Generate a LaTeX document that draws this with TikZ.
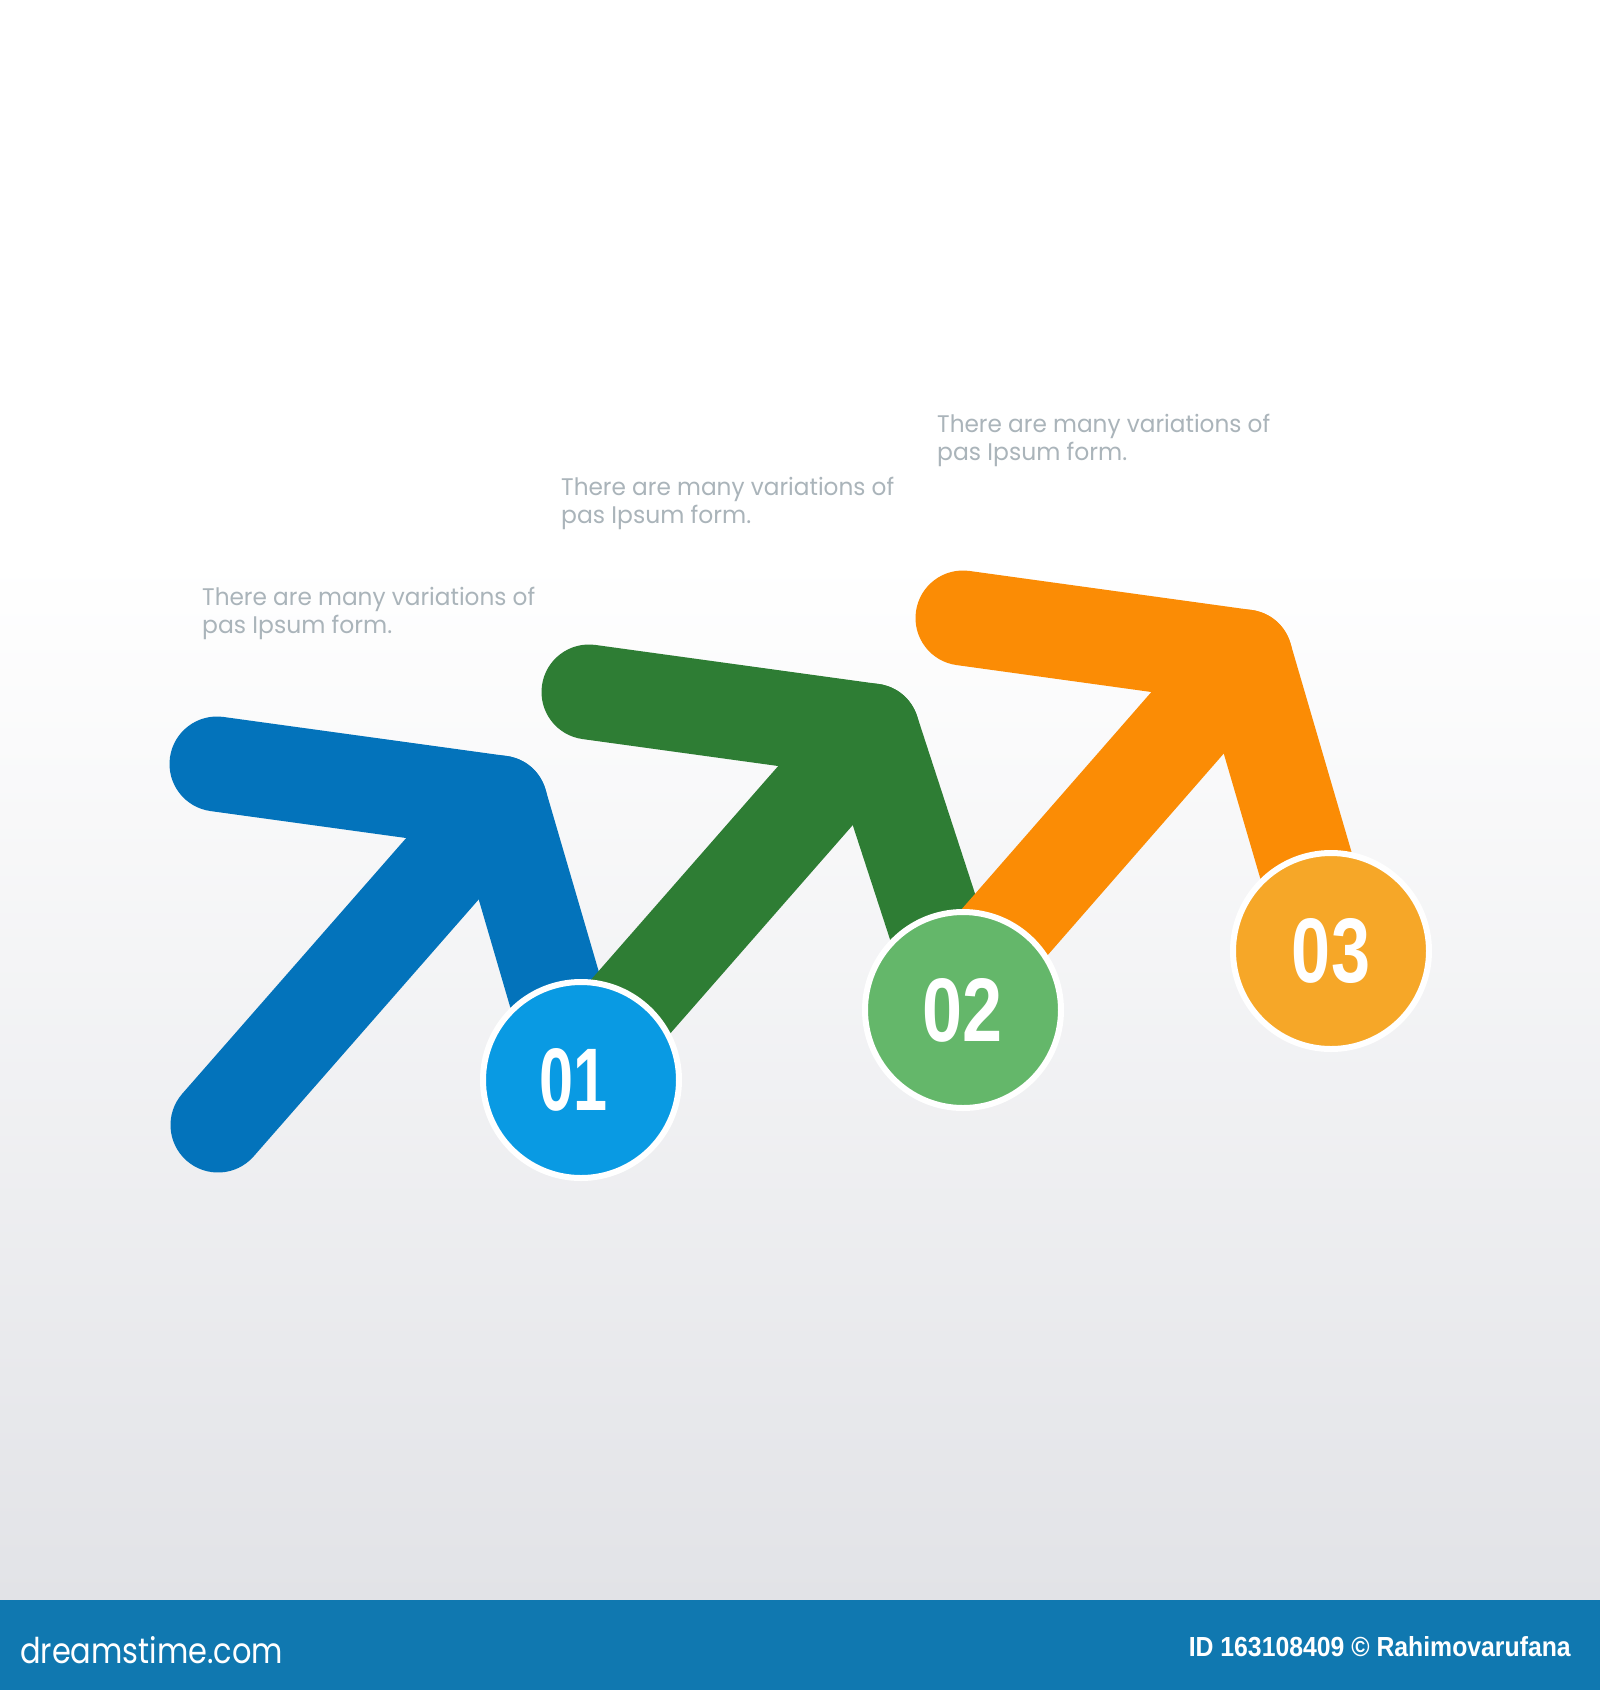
\documentclass[tikz,border=0pt]{standalone}
\usepackage{fontspec}
\usepackage{graphicx}
\setmainfont{Liberation Sans}
\newfontfamily\popfont{Poppins}
\definecolor{blueA}{RGB}{3,115,187}
\definecolor{greenA}{RGB}{46,125,52}
\definecolor{orangeA}{RGB}{251,140,5}
\definecolor{circA}{RGB}{9,154,227}
\definecolor{circB}{RGB}{100,183,106}
\definecolor{circC}{RGB}{246,167,40}
\definecolor{notegray}{RGB}{170,180,186}
\definecolor{bgbottom}{RGB}{226,227,231}
\definecolor{barblue}{RGB}{16,120,176}
\begin{document}
\begin{tikzpicture}[x=1pt,y=-1pt,
  arrowline/.style={line width=95pt, line cap=round, line join=round},
  numcircle/.style={circle, draw=white, line width=6pt, minimum size=196pt, inner sep=0pt, text=white, font=\bfseries},
  note/.style={anchor=base west, inner sep=0pt, text=notegray, font=\popfont\fontsize{24}{28}\selectfont}]
\useasboundingbox (0,0) rectangle (1600,1690);
% background
\fill[white] (0,0) rectangle (1600,560);
\shade[top color=white, bottom color=bgbottom] (0,560) rectangle (1600,1600);
\fill[barblue] (0,1600) rectangle (1600,1690);
% key points
\coordinate (p1) at (581,1080);
\coordinate (p2) at (963,1010);
\coordinate (p3) at (1331,951);
\coordinate (a1) at (217,764);
\coordinate (k1) at (500,803);
\coordinate (b1) at (218,1125);
\coordinate (a2) at (589,692);
\coordinate (k2) at (872,731);
\coordinate (b2) at (590,1053);
\coordinate (a3) at (963,618);
\coordinate (k3) at (1245,657);
\coordinate (b3) at (962,981);
% arrows
\draw[arrowline, blueA] (a1) -- (k1) -- (p1);
\draw[arrowline, blueA] (b1) -- (k1);
\draw[arrowline, greenA] (a2) -- (k2) -- (p2);
\draw[arrowline, greenA] (b2) -- (k2);
\draw[arrowline, orangeA] (a3) -- (k3) -- (p3);
\draw[arrowline, orangeA] (b3) -- (k3);
% number circles
\node[numcircle, fill=circA] (n1) at (p1) {\hspace*{-14pt}\resizebox{68pt}{62pt}{01}};
\node[numcircle, fill=circB] (n2) at (p2) {\resizebox{80pt}{63pt}{02}};
\node[numcircle, fill=circC] (n3) at (p3) {\resizebox{78pt}{64pt}{03}};
% notes
\node[note] (t1a) at (202,605) {\resizebox{333pt}{\height}{There are many variations of}};
\node[note] (t1b) at (202,633) {\resizebox{190pt}{\height}{pas Ipsum form.}};
\node[note] (t2a) at (561,495) {\resizebox{333pt}{\height}{There are many variations of}};
\node[note] (t2b) at (561,523) {\resizebox{190pt}{\height}{pas Ipsum form.}};
\node[note] (t3a) at (937,432) {\resizebox{333pt}{\height}{There are many variations of}};
\node[note] (t3b) at (937,460) {\resizebox{190pt}{\height}{pas Ipsum form.}};
% footer
\node[anchor=base west, inner sep=0pt, text=white] (logo) at (20,1663) {\resizebox{263pt}{27pt}{\popfont dreamstime.com}};
\node[anchor=base east, inner sep=0pt, text=white] (credit) at (1571,1656) {\resizebox{382pt}{20pt}{\bfseries ID 163108409 © Rahimovarufana}};
\end{tikzpicture}
\end{document}
